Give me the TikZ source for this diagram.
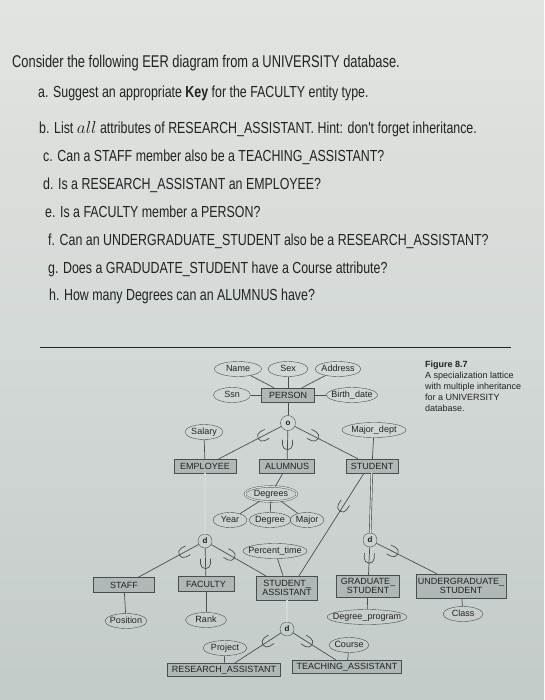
\documentclass[tikz,border=0pt]{standalone}
\usepackage{fontspec}
\setmainfont{Liberation Sans}
\newfontfamily\qfont{Liberation Sans}[FakeStretch=0.775]
\newfontfamily\tfont{Liberation Sans}[FakeStretch=0.757]
\usetikzlibrary{shapes.geometric,decorations.markings}
\definecolor{ink}{HTML}{222222}
\definecolor{linec}{HTML}{4A4F4E}
\definecolor{entfill}{HTML}{AFB8B6}
\definecolor{bgtop}{HTML}{E2E4E0}
\definecolor{bgmid}{HTML}{D3D9D7}
\definecolor{bgbot}{HTML}{C3CBC9}
\newcommand{\lb}[1]{\makebox[0pt]{#1}}

\begin{document}
\begin{tikzpicture}[x=1pt,y=-1pt,font=\fontsize{9}{9.5}\selectfont,
ent/.style={draw=linec,fill=entfill,rectangle,inner sep=1pt,minimum height=14pt,align=center,text=ink},
att/.style={draw=linec,ellipse,inner sep=0pt,minimum height=15pt,text height=6.5pt,text depth=1.5pt,text=ink},
sc/.style={draw=linec,circle,inner sep=0pt,minimum size=14pt,font=\fontsize{8}{8}\selectfont\bfseries,text=ink},
q/.style={anchor=base west,inner sep=0pt,text=ink,font=\qfont\fontsize{16}{18}\selectfont},
ln/.style={draw=linec,line width=0.7pt},
dbl/.style={draw=linec,line width=0.6pt,double=bgmid,double distance=1.2pt},
subs/.style={postaction={decorate},decoration={markings,mark=at position #1 with {\draw[linec,line width=0.7pt](-5pt,5pt)--(0pt,5pt) arc(90:-90:5pt)--(-5pt,-5pt);}}}]
\useasboundingbox (0,0) rectangle (544,700);
\shade[top color=bgtop,bottom color=bgbot,middle color=bgmid] (0,0) rectangle (544,700);
\node[q,font=\tfont\fontsize{17}{19}\selectfont](title) at (12,68){Consider the following EER diagram from a UNIVERSITY database.};
\node[q](qa) at (38,98){a. Suggest an appropriate \textbf{Key} for the FACULTY entity type.};
\node[q](qb) at (39,134){b. List $all$ attributes of RESEARCH\_ASSISTANT. Hint: don't forget inheritance.};
\node[q](qc) at (43,162){c. Can a STAFF member also be a TEACHING\_ASSISTANT?};
\node[q](qd) at (43,190){d. Is a RESEARCH\_ASSISTANT an EMPLOYEE?};
\node[q](qe) at (45,218){e. Is a FACULTY member a PERSON?};
\node[q](qf) at (48,246){f. Can an UNDERGRADUATE\_STUDENT also be a RESEARCH\_ASSISTANT?};
\node[q](qg) at (48,273){g. Does a GRADUDATE\_STUDENT have a Course attribute?};
\node[q](qh) at (49,300){h. How many Degrees can an ALUMNUS have?};
\draw[ink,line width=1pt](40,347)--(511,347);
\node[anchor=north west,align=left,inner sep=0pt,text=ink,font=\fontsize{9}{11}\selectfont](cap) at (425,361){\textbf{Figure 8.7}\\A specialization lattice\\with multiple inheritance\\for a UNIVERSITY\\database.};
\node[att,minimum width=47pt](nm) at (238,369){\lb{Name}};
\node[att,minimum width=40pt](sx) at (288,369){\lb{Sex}};
\node[att,minimum width=46pt](adr) at (338,369){\lb{Address}};
\node[att,minimum width=37pt](ssn) at (232,395){\lb{Ssn}};
\node[ent,minimum width=53pt](per) at (288,395){PERSON};
\node[att,minimum width=51pt](bd) at (352,395){\lb{Birth\_date}};
\node[sc,minimum size=15pt](pc) at (288,423){o};
\node[att,minimum width=38pt](sal) at (204,432){\lb{Salary}};
\node[att,minimum width=64pt](mjd) at (374,430){\lb{Major\_dept}};
\node[ent,minimum width=62pt](emp) at (205,466){EMPLOYEE};
\node[ent,minimum width=55pt](alm) at (287,466){ALUMNUS};
\node[ent,minimum width=52pt](std) at (372,466){STUDENT};
\node[att,minimum width=52pt,double=bgmid,double distance=1.3pt](deg) at (271,494){\lb{Degrees}};
\node[att,minimum width=34pt](yr) at (230,520){\lb{Year}};
\node[att,minimum width=42pt](dg) at (270,520){\lb{Degree}};
\node[att,minimum width=34pt](mj) at (307,520){\lb{Major}};
\node[sc](ed) at (205,541){d};
\node[att,minimum width=64pt](pt) at (275,551){\lb{Percent\_time}};
\node[sc](sd) at (370,540){d};
\node[ent,minimum width=61pt,minimum height=15pt](stf) at (124,585){STAFF};
\node[ent,minimum width=56pt,minimum height=15pt](fac) at (206,584){FACULTY};
\node[ent,minimum width=61pt,minimum height=24pt](sa) at (287,588){STUDENT\_\\ASSISTANT};
\node[ent,minimum width=63pt,minimum height=22pt](grd) at (368,586){GRADUATE\_\\STUDENT};
\node[ent,minimum width=90pt,minimum height=24pt](ugr) at (461,586){UNDERGRADUATE\_\\STUDENT};
\node[att,minimum width=42pt](pos) at (126,621){\lb{Position}};
\node[att,minimum width=41pt](rk) at (206,620){\lb{Rank}};
\node[att,minimum width=80pt](dpg) at (367,617){\lb{Degree\_program}};
\node[att,minimum width=40pt](cls) at (463,614){\lb{Class}};
\node[sc](sad) at (287,629){d};
\node[att,minimum width=44pt](prj) at (225,648){\lb{Project}};
\node[att,minimum width=40pt](crs) at (349,645){\lb{Course}};
\node[ent,minimum width=113pt,minimum height=13pt](ra) at (224,670){RESEARCH\_ASSISTANT};
\node[ent,minimum width=109pt,minimum height=13pt](ta) at (347,667){TEACHING\_ASSISTANT};
\draw[ln](nm)--(per);\draw[ln](sx)--(per);\draw[ln](adr)--(per);\draw[ln](ssn)--(per);\draw[ln](bd)--(per);
\draw[ln](per)--(pc);
\draw[ln,subs=0.3](pc)--(emp);\draw[ln,subs=0.5](pc)--(alm);\draw[ln,subs=0.3](pc)--(std);
\draw[ln](sal)--(emp);\draw[ln](mjd)--(std);
\draw[ln](alm)--(deg);\draw[ln](deg)--(yr);\draw[ln](deg)--(dg);\draw[ln](deg)--(mj);
\draw[dbl](emp)--(ed);
\draw[ln,subs=0.25](ed)--(stf);\draw[ln,subs=0.55](ed)--(fac);\draw[ln,subs=0.35](ed)--(sa);
\draw[ln,subs=0.33]([xshift=-8pt]std.south)--([xshift=12pt]sa.north);
\draw[ln](pt)--(sa);
\draw[dbl](std)--(sd);
\draw[ln,subs=0.4](sd)--(grd);\draw[ln,subs=0.28](sd)--(ugr);
\draw[ln](grd)--(dpg);\draw[ln](ugr)--(cls);
\draw[ln](stf)--(pos);\draw[ln](fac)--(rk);
\draw[dbl](sa)--(sad);
\draw[ln,subs=0.3](sad)--(ra);\draw[ln,subs=0.34](sad)--(ta);
\draw[ln](prj)--(ra);\draw[ln](crs)--(ta);
\end{tikzpicture}
\end{document}
